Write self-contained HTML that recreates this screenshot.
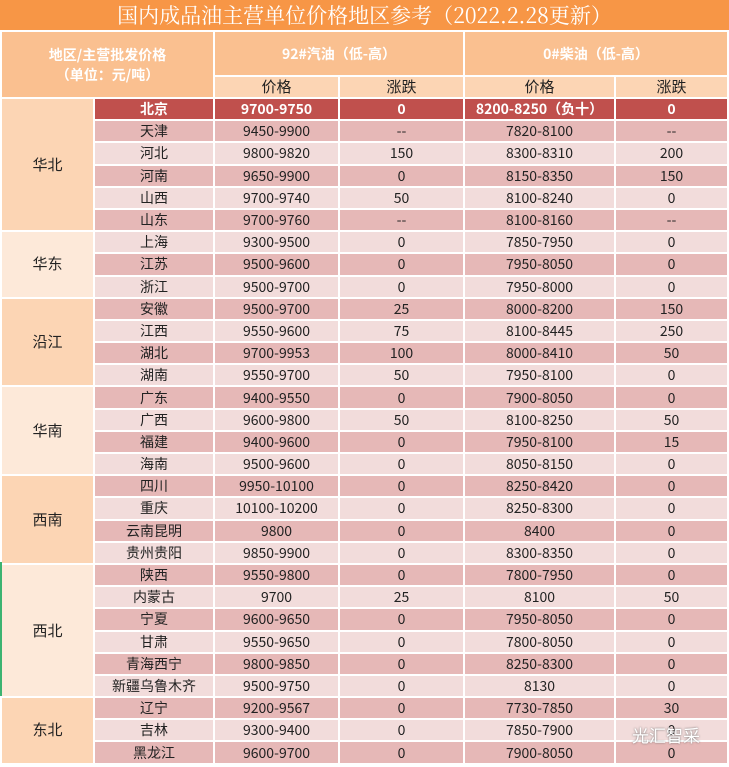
<!DOCTYPE html>
<html><head><meta charset="utf-8"><style>
html,body{margin:0;padding:0;background:#fff;width:729px;height:767px;overflow:hidden}
body{font-family:"Liberation Sans","Noto Sans CJK SC",sans-serif;}
.title{position:absolute;left:0;top:0;width:729px;height:30px;background:#f79646;color:#fff;font-family:"Noto Serif CJK SC",serif;font-size:21px;line-height:30px;text-align:center}
table{position:absolute;left:0;top:30px;border-collapse:collapse;table-layout:fixed;width:727px}
td{border:2px solid #fff;padding:0;text-align:center;font-size:14px;color:#222;line-height:16px;white-space:nowrap;overflow:hidden;font-family:"Liberation Sans Narrow","Noto Sans CJK SC",sans-serif}
tr.d,tr.w,tr.bj{height:22.2px}
.h{background:#fac090;color:#fff;font-weight:bold;font-size:14px}
.s{background:#fcd5b4;font-size:15px}
.o{background:#fcd5b4;font-size:15px}
.l{background:#fde9d9;font-size:15px}
.d td.c{background:#e6b8b7}
.w td.c{background:#f2dcdb}
.bj td.c{background:#c0504d;color:#fff;font-weight:bold}
</style></head><body>
<div class="title">国内成品油主营单位价格地区参考（2022.2.28更新）</div>
<table>
<colgroup><col style="width:93px"><col style="width:120px"><col style="width:125px"><col style="width:125px"><col style="width:151px"><col style="width:113px"></colgroup>
<tr style="height:45px"><td class="h" colspan="2" rowspan="2" style="line-height:20px">地区/主营批发价格<br>（单位：元/吨）</td><td class="h" colspan="2">92#汽油（低-高）</td><td class="h" colspan="2">0#柴油（低-高）</td></tr>
<tr style="height:22px"><td class="s">价格</td><td class="s">涨跌</td><td class="s">价格</td><td class="s">涨跌</td></tr>
<tr class="bj"><td class="o" rowspan="6">华北</td><td class="c">北京</td><td class="c">9700-9750</td><td class="c">0</td><td class="c">8200-8250（负十）</td><td class="c">0</td></tr>
<tr class="d"><td class="c">天津</td><td class="c">9450-9900</td><td class="c">--</td><td class="c">7820-8100</td><td class="c">--</td></tr>
<tr class="w"><td class="c">河北</td><td class="c">9800-9820</td><td class="c">150</td><td class="c">8300-8310</td><td class="c">200</td></tr>
<tr class="d"><td class="c">河南</td><td class="c">9650-9900</td><td class="c">0</td><td class="c">8150-8350</td><td class="c">150</td></tr>
<tr class="w"><td class="c">山西</td><td class="c">9700-9740</td><td class="c">50</td><td class="c">8100-8240</td><td class="c">0</td></tr>
<tr class="d"><td class="c">山东</td><td class="c">9700-9760</td><td class="c">--</td><td class="c">8100-8160</td><td class="c">--</td></tr>
<tr class="w"><td class="l" rowspan="3">华东</td><td class="c">上海</td><td class="c">9300-9500</td><td class="c">0</td><td class="c">7850-7950</td><td class="c">0</td></tr>
<tr class="d"><td class="c">江苏</td><td class="c">9500-9600</td><td class="c">0</td><td class="c">7950-8050</td><td class="c">0</td></tr>
<tr class="w"><td class="c">浙江</td><td class="c">9500-9700</td><td class="c">0</td><td class="c">7950-8000</td><td class="c">0</td></tr>
<tr class="d"><td class="o" rowspan="4">沿江</td><td class="c">安徽</td><td class="c">9500-9700</td><td class="c">25</td><td class="c">8000-8200</td><td class="c">150</td></tr>
<tr class="w"><td class="c">江西</td><td class="c">9550-9600</td><td class="c">75</td><td class="c">8100-8445</td><td class="c">250</td></tr>
<tr class="d"><td class="c">湖北</td><td class="c">9700-9953</td><td class="c">100</td><td class="c">8000-8410</td><td class="c">50</td></tr>
<tr class="w"><td class="c">湖南</td><td class="c">9550-9700</td><td class="c">50</td><td class="c">7950-8100</td><td class="c">0</td></tr>
<tr class="d"><td class="l" rowspan="4">华南</td><td class="c">广东</td><td class="c">9400-9550</td><td class="c">0</td><td class="c">7900-8050</td><td class="c">0</td></tr>
<tr class="w"><td class="c">广西</td><td class="c">9600-9800</td><td class="c">50</td><td class="c">8100-8250</td><td class="c">50</td></tr>
<tr class="d"><td class="c">福建</td><td class="c">9400-9600</td><td class="c">0</td><td class="c">7950-8100</td><td class="c">15</td></tr>
<tr class="w"><td class="c">海南</td><td class="c">9500-9600</td><td class="c">0</td><td class="c">8050-8150</td><td class="c">0</td></tr>
<tr class="d"><td class="o" rowspan="4">西南</td><td class="c">四川</td><td class="c">9950-10100</td><td class="c">0</td><td class="c">8250-8420</td><td class="c">0</td></tr>
<tr class="w"><td class="c">重庆</td><td class="c">10100-10200</td><td class="c">0</td><td class="c">8250-8300</td><td class="c">0</td></tr>
<tr class="d"><td class="c">云南昆明</td><td class="c">9800</td><td class="c">0</td><td class="c">8400</td><td class="c">0</td></tr>
<tr class="w"><td class="c">贵州贵阳</td><td class="c">9850-9900</td><td class="c">0</td><td class="c">8300-8350</td><td class="c">0</td></tr>
<tr class="d"><td class="l" rowspan="6">西北</td><td class="c">陕西</td><td class="c">9550-9800</td><td class="c">0</td><td class="c">7800-7950</td><td class="c">0</td></tr>
<tr class="w"><td class="c">内蒙古</td><td class="c">9700</td><td class="c">25</td><td class="c">8100</td><td class="c">50</td></tr>
<tr class="d"><td class="c">宁夏</td><td class="c">9600-9650</td><td class="c">0</td><td class="c">7950-8050</td><td class="c">0</td></tr>
<tr class="w"><td class="c">甘肃</td><td class="c">9550-9650</td><td class="c">0</td><td class="c">7800-8050</td><td class="c">0</td></tr>
<tr class="d"><td class="c">青海西宁</td><td class="c">9800-9850</td><td class="c">0</td><td class="c">8250-8300</td><td class="c">0</td></tr>
<tr class="w"><td class="c">新疆乌鲁木齐</td><td class="c">9500-9750</td><td class="c">0</td><td class="c">8130</td><td class="c">0</td></tr>
<tr class="d"><td class="o" rowspan="3">东北</td><td class="c">辽宁</td><td class="c">9200-9567</td><td class="c">0</td><td class="c">7730-7850</td><td class="c">30</td></tr>
<tr class="w"><td class="c">吉林</td><td class="c">9300-9400</td><td class="c">0</td><td class="c">7850-7900</td><td class="c">0</td></tr>
<tr class="d"><td class="c">黑龙江</td><td class="c">9600-9700</td><td class="c">0</td><td class="c">7900-8050</td><td class="c">0</td></tr>
</table>
<div style="position:absolute;left:632px;top:722px;color:#fff;font-size:17px;font-family:'Noto Sans CJK SC',sans-serif;text-shadow:0 0 2px #666">光汇智采</div>
<div style="position:absolute;left:0;top:562px;width:2px;height:134px;background:#3cb371"></div>
</body></html>
